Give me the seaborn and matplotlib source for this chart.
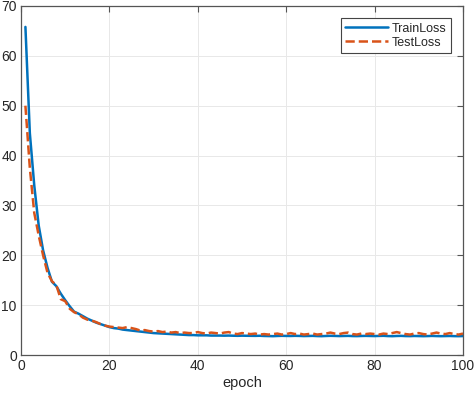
import numpy as np
import pandas as pd
import matplotlib
matplotlib.use('Agg')
import matplotlib.pyplot as plt
import seaborn as sns

# loss values, epochs 1..100
train_loss = [
    65.8, 44.5, 34.0, 26.0, 21.0, 17.5, 14.7, 13.8, 12.3, 11.0,
    9.8, 8.7, 8.3, 7.8, 7.3, 6.9, 6.5, 6.2, 5.9, 5.6,
    5.4, 5.3, 5.1, 5.0, 4.9, 4.8, 4.7, 4.6, 4.5, 4.4,
    4.35, 4.3, 4.25, 4.2, 4.15, 4.1, 4.05, 4.0, 4.0, 3.95,
    3.95, 3.95, 3.9, 3.9, 3.9, 3.88, 3.9, 3.87, 3.85, 3.88,
    3.86, 3.85, 3.84, 3.86, 3.82, 3.8, 3.78, 3.82, 3.85, 3.83,
    3.82, 3.85, 3.83, 3.8, 3.82, 3.84, 3.8, 3.78, 3.82, 3.85,
    3.83, 3.8, 3.82, 3.84, 3.8, 3.79, 3.82, 3.84, 3.82, 3.8,
    3.83, 3.85, 3.8, 3.78, 3.82, 3.84, 3.8, 3.79, 3.82, 3.8,
    3.78, 3.8, 3.83, 3.8, 3.78, 3.8, 3.82, 3.79, 3.78, 3.8,
]
test_loss = [
    50.0, 37.5, 28.5, 24.0, 20.0, 16.5, 14.8, 14.0, 11.2, 10.8,
    9.3, 8.6, 8.2, 7.5, 7.1, 6.9, 6.6, 6.2, 5.9, 5.7,
    5.6, 5.5, 5.4, 5.6, 5.4, 5.2, 4.9, 5.0, 4.8, 4.7,
    4.8, 4.6, 4.7, 4.5, 4.6, 4.4, 4.5, 4.4, 4.4, 4.6,
    4.4, 4.3, 4.5, 4.4, 4.3, 4.5, 4.6, 4.3, 4.2, 4.4,
    4.3, 4.2, 4.3, 4.1, 4.2, 4.1, 4.2, 4.3, 4.1, 4.2,
    4.4, 4.2, 4.3, 4.1, 4.2, 4.3, 4.1, 4.2, 4.3, 4.5,
    4.3, 4.2, 4.4, 4.5, 4.2, 4.1, 4.3, 4.2, 4.3, 4.2,
    4.1, 4.3, 4.2, 4.4, 4.6, 4.4, 4.2, 4.1, 4.3, 4.4,
    4.2, 4.1, 4.3, 4.5, 4.3, 4.2, 4.4, 4.2, 4.1, 4.3,
]
epochs = np.arange(1, len(train_loss) + 1)

x_ticks = [0, 20, 40, 60, 80, 100]
y_ticks = [0, 10, 20, 30, 40, 50, 60, 70]

sns.set_style('white')
plt.rcParams['font.family'] = ['Liberation Sans', 'DejaVu Sans']

df = pd.DataFrame({'epoch': epochs, 'TrainLoss': train_loss, 'TestLoss': test_loss})

fig = plt.figure(figsize=(4.74, 3.98), dpi=100)
ax = fig.add_axes([0.0443, 0.108, 0.9325, 0.877])

sns.lineplot(data=df, x='epoch', y='TrainLoss', ax=ax, color='#0072BD',
             linewidth=1.8, label='TrainLoss')
sns.lineplot(data=df, x='epoch', y='TestLoss', ax=ax, color='#D95319',
             linewidth=1.8, linestyle='--', dashes=(3, 2.2), label='TestLoss')

ax.set_xlim(0, 100)
ax.set_ylim(0, 70)
ax.set_xticks(x_ticks)
ax.set_yticks(y_ticks)
ax.grid(True, color='#e8e8e8', linewidth=0.7)
ax.set_axisbelow(True)

edge = '#555555'
for s in ax.spines.values():
    s.set_color(edge)
    s.set_linewidth(0.9)
ax.tick_params(direction='in', top=True, right=True, length=4, width=0.8,
               color=edge, labelsize=10, labelcolor='#262626', pad=3)
ax.set_xlabel('epoch', fontsize=10.5, color='#262626', labelpad=2)
ax.set_ylabel('')

leg = ax.legend(loc='upper right', fontsize=9, frameon=True, fancybox=False,
                edgecolor='#444444', framealpha=1, borderpad=0.35,
                handlelength=3.4, handletextpad=0.3, labelspacing=0.15,
                borderaxespad=1.0)
leg.get_frame().set_linewidth(0.8)

fig.savefig('out.png', dpi=100)
